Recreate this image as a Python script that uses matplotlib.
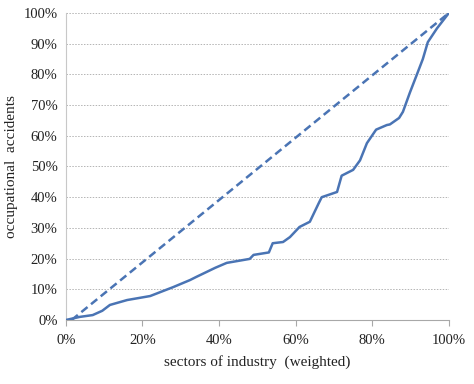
import matplotlib.pyplot as plt
from matplotlib.ticker import PercentFormatter

# Lorenz-type curve (fractions)
sectors = [0.0, 0.036, 0.07, 0.095, 0.115, 0.16, 0.22, 0.28, 0.324, 0.34, 0.39, 0.42,
           0.48, 0.49, 0.53, 0.54, 0.567, 0.585, 0.61, 0.637, 0.66, 0.668, 0.708,
           0.72, 0.75, 0.768, 0.786, 0.81, 0.838, 0.846, 0.87, 0.88, 0.898, 0.916,
           0.932, 0.945, 0.969, 1.0]
accidents = [0.0, 0.01, 0.016, 0.03, 0.049, 0.065, 0.078, 0.107, 0.13, 0.14, 0.17, 0.186,
             0.199, 0.212, 0.22, 0.25, 0.254, 0.27, 0.303, 0.32, 0.38, 0.40, 0.417,
             0.47, 0.489, 0.52, 0.576, 0.62, 0.635, 0.637, 0.658, 0.678, 0.74, 0.798,
             0.85, 0.905, 0.95, 1.0]
equal_x = [0.015, 1.0]
equal_y = [0.0, 1.0]

plt.rcParams['font.family'] = ['Liberation Serif', 'DejaVu Serif']

fig = plt.figure(figsize=(4.74, 3.84), dpi=100)
ax = fig.add_axes([0.139, 0.1667, 0.808, 0.7995])

blue = '#4a74b4'
ax.plot(equal_x, equal_y, color=blue, lw=1.8, ls=(0, (3.2, 1.8)), zorder=3)
ax.plot(sectors, accidents, color=blue, lw=1.8, zorder=3)

ax.set_xlim(0, 1)
ax.set_ylim(0, 1)
ax.set_xticks([0, 0.2, 0.4, 0.6, 0.8, 1.0])
ax.set_yticks([i / 10 for i in range(11)])
ax.xaxis.set_major_formatter(PercentFormatter(1.0, decimals=0))
ax.yaxis.set_major_formatter(PercentFormatter(1.0, decimals=0))

ax.grid(axis='y', color='#b4b4b4', ls=(0, (1.5, 1.5)), lw=0.7)
for s in ['top', 'right']:
    ax.spines[s].set_visible(False)
ax.spines['left'].set_color('#c8c8c8')
ax.spines['bottom'].set_color('#a8a8a8')
ax.tick_params(axis='y', length=0, pad=6, labelsize=10.5, colors='#222222')
ax.tick_params(axis='x', length=4, color='#a8a8a8', pad=6, labelsize=10.5,
               labelcolor='#222222')

ax.set_xlabel('sectors of industry  (weighted)', fontsize=11, color='#222222', labelpad=6)
ax.set_ylabel('occupational  accidents', fontsize=11, color='#222222', labelpad=4)

fig.savefig('out.png', dpi=100)
